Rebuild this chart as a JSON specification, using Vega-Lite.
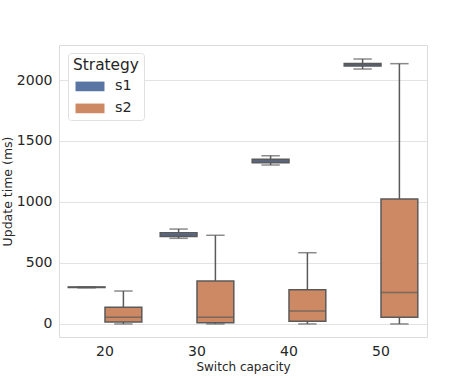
{
  "$schema": "https://vega.github.io/schema/vega-lite/v6.json",
  "width": 368,
  "height": 292,
  "autosize": "none",
  "padding": {"left": 59, "top": 45, "right": 47, "bottom": 42},
  "background": "white",
  "config": {
    "font": "DejaVu Sans",
    "view": {"stroke": "#dcdcdc", "strokeWidth": 1},
    "axis": {"labelColor": "#262626", "titleColor": "#262626", "domain": false, "ticks": false, "labelFontSize": 14, "titleFontSize": 12.5, "titleFontWeight": "normal", "gridColor": "#e3e3e3", "gridWidth": 1}
  },
  "data": {
    "values": [
      {"capacity": "20", "strategy": "s1", "min": 296, "q1": 298, "median": 300, "q3": 302, "max": 304},
      {"capacity": "20", "strategy": "s2", "min": 0, "q1": 15, "median": 55, "q3": 137, "max": 270},
      {"capacity": "30", "strategy": "s1", "min": 702, "q1": 716, "median": 730, "q3": 748, "max": 778},
      {"capacity": "30", "strategy": "s2", "min": 0, "q1": 10, "median": 55, "q3": 352, "max": 727},
      {"capacity": "40", "strategy": "s1", "min": 1303, "q1": 1322, "median": 1336, "q3": 1350, "max": 1379},
      {"capacity": "40", "strategy": "s2", "min": 0, "q1": 22, "median": 106, "q3": 281, "max": 584},
      {"capacity": "50", "strategy": "s1", "min": 2090, "q1": 2115, "median": 2125, "q3": 2135, "max": 2172},
      {"capacity": "50", "strategy": "s2", "min": 0, "q1": 55, "median": 257, "q3": 1025, "max": 2134}
    ]
  },
  "encoding": {
    "x": {"field": "capacity", "type": "nominal", "scale": {"paddingInner": 0, "paddingOuter": 0}, "axis": {"labelAngle": 0, "labelPadding": 7, "title": "Switch capacity", "titleFontSize": 12, "titlePadding": 3, "grid": false}},
    "xOffset": {"field": "strategy", "type": "nominal", "scale": {"paddingInner": 0, "paddingOuter": 0.25}}
  },
  "layer": [
    {
      "mark": {"type": "rule", "color": "#5a5a5a", "strokeWidth": 1.5},
      "encoding": {
        "y": {"field": "min", "type": "quantitative", "scale": {"domain": [-107, 2287], "nice": false, "zero": false}, "axis": {"values": [0, 500, 1000, 1500, 2000], "format": "d", "title": "Update time (ms)", "labelPadding": 7, "titlePadding": 2, "grid": true}},
        "y2": {"field": "max"}
      }
    },
    {
      "mark": {"type": "bar", "stroke": "#5a5a5a", "strokeWidth": 1.5},
      "encoding": {
        "y": {"field": "q1", "type": "quantitative"},
        "y2": {"field": "q3"},
        "color": {
          "field": "strategy", "type": "nominal",
          "scale": {"domain": ["s1", "s2"], "range": ["#5975a4", "#cc8963"]},
          "legend": {
            "title": "Strategy", "orient": "none", "legendX": 9, "legendY": 8,
            "titleFontSize": 15.4, "titleFontWeight": "normal", "titleColor": "#262626",
            "labelFontSize": 14.4, "labelColor": "#262626",
            "symbolType": "M-1.5,-0.5H1.5V0.5H-1.5Z", "symbolSize": 373, "symbolStrokeWidth": 0,
            "symbolOffset": 7, "symbolOpacity": 1, "labelOffset": 15, "rowPadding": 5, "titlePadding": 3,
            "fillColor": "white", "strokeColor": "#e0e0e0", "cornerRadius": 3, "padding": 5
          }
        }
      }
    },
    {
      "mark": {"type": "tick", "color": "#5a5a5a", "thickness": 1.5, "size": 36.8},
      "encoding": {"y": {"field": "median", "type": "quantitative"}}
    },
    {
      "mark": {"type": "tick", "color": "#5a5a5a", "thickness": 1.5, "size": 18.4},
      "encoding": {"y": {"field": "min", "type": "quantitative"}}
    },
    {
      "mark": {"type": "tick", "color": "#5a5a5a", "thickness": 1.5, "size": 18.4},
      "encoding": {"y": {"field": "max", "type": "quantitative"}}
    }
  ]
}
